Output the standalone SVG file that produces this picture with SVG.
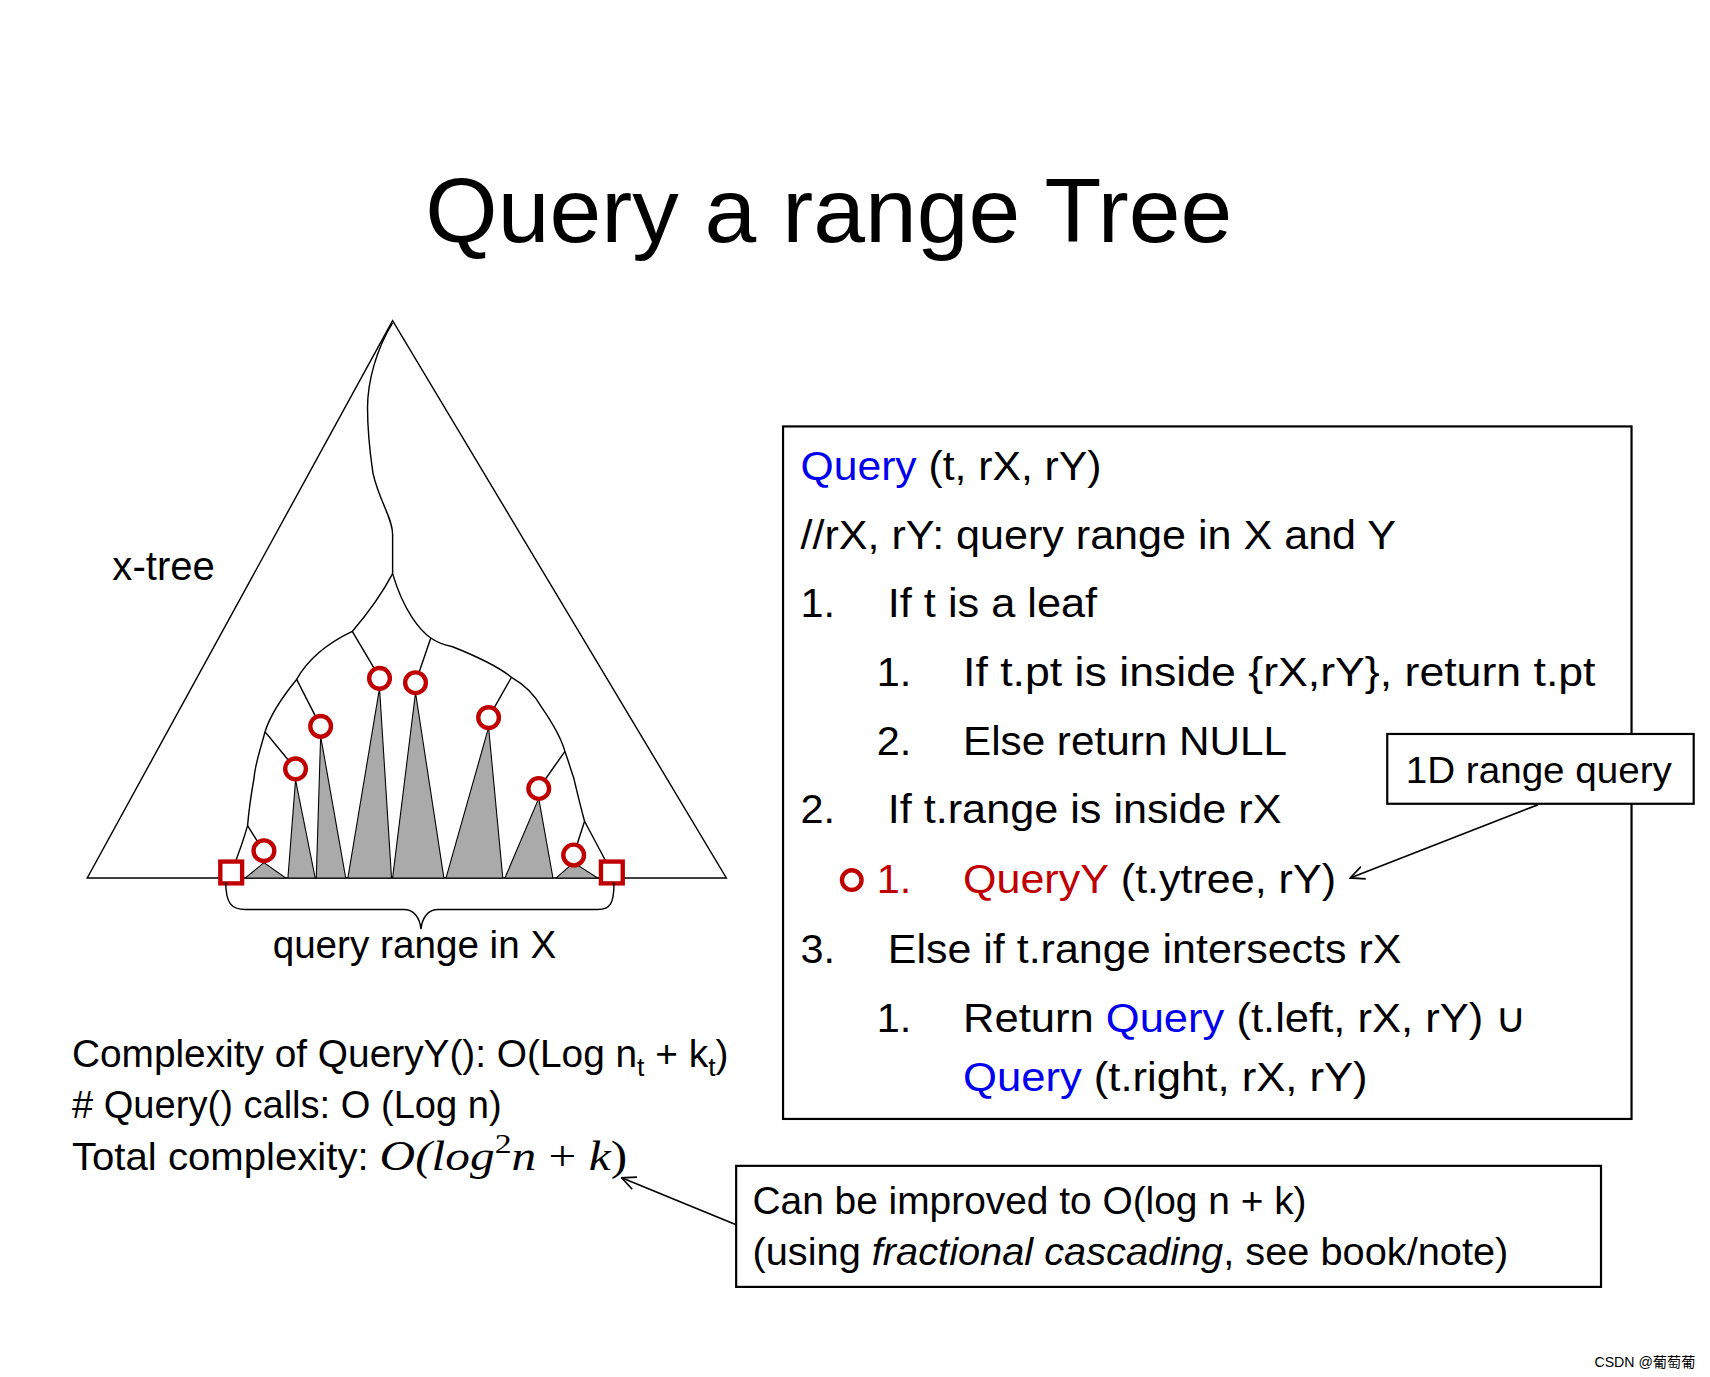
<svg xmlns="http://www.w3.org/2000/svg" width="1710" height="1377" viewBox="0 0 1710 1377">
<style>
text{font-family:"Liberation Sans",Arial,sans-serif;fill:#000}
.t{font-size:38px}
.b{fill:#0000ee}
.r{fill:#c00000}
.ln{fill:none;stroke:#000;stroke-width:1.3}
.g{fill:#aaa;stroke:#000;stroke-width:1}
.rc{fill:#fff;stroke:#c00000;stroke-width:4}
.box{fill:#fff;stroke:#000;stroke-width:2}
.ar{fill:none;stroke:#000;stroke-width:1.5}
</style>
<defs><marker id="oa" viewBox="0 0 14 14" refX="13" refY="7" markerWidth="14" markerHeight="14" orient="auto" markerUnits="userSpaceOnUse"><path d="M0,1 L13,7 L0,13" fill="none" stroke="#000" stroke-width="1.5"/></marker></defs>
<rect width="1710" height="1377" fill="#fff"/>
<g transform="scale(1.0906)">
<text x="760" y="222" font-size="84" text-anchor="middle" textLength="740" lengthAdjust="spacingAndGlyphs">Query a range Tree</text>
<g id="xtree">
<path class="ln" d="M360,294 L80,805 L666,805 Z"/>
<path class="ln" d="M360,296 C345,320 337,350 337,374 C337,400 340,420 342,434 C348,460 360,475 360,490 L360,526"/>
<path class="ln" d="M360,526 C350,545 335,565 323,579 C300,590 282,605 272,623 C258,640 248,655 243,671 C238,690 234,700 233,713 C230,730 228,745 227,757 C222,775 216,790 212,800"/>
<path class="ln" d="M360,526 C370,560 385,578 395,585 C402,590 410,592 415,593 C440,603 458,612 469,621 C485,630 492,640 497,649 C508,665 515,678 518,689 C522,700 524,708 526,713 C530,730 533,742 536,753 C545,770 553,785 561,800"/>
<path class="ln" d="M323,579 L348,621 M395,585 L381,626 M469,621 L448,658 M518,689 L494,723 M536,753 L526,784 M272,623 L294,666 M243,671 L271,705 M227,757 L242,781"/>
<path class="g" d="M225,805 L242,791 L262,805 Z M264,805 L271,715 L289,805 Z M290,805 L294,675 L317,805 Z M319,805 L348,631 L359,805 Z M360,805 L381,635 L407,805 Z M409,805 L448,667 L461,805 Z M463,805 L494,732 L507,805 Z M510,805 L526,791 L548,805 Z"/>
<g class="rc"><circle cx="242" cy="780" r="9.5"/><circle cx="271" cy="705" r="9.5"/><circle cx="294" cy="666" r="9.5"/><circle cx="348" cy="622" r="9.5"/><circle cx="381" cy="626" r="9.5"/><circle cx="448" cy="658" r="9.5"/><circle cx="494" cy="723" r="9.5"/><circle cx="526" cy="784" r="9.5"/>
<rect x="202" y="790" width="20" height="20"/><rect x="551" y="790" width="20" height="20"/></g>
<path class="ln" d="M207,809 C207,828 212,834 225,834 L370,834 C380,834 385,842 386,852 C387,842 392,834 402,834 L548,834 C560,834 563,828 563,809"/>
<text x="103" y="532" class="t" font-size="36" textLength="94" lengthAdjust="spacingAndGlyphs">x-tree</text>
<text x="250" y="878" font-size="36" textLength="260" lengthAdjust="spacingAndGlyphs">query range in X</text>
</g>
<g id="code">
<rect class="box" x="718" y="391" width="778" height="635"/>
<text class="t" x="734" y="440" textLength="276" lengthAdjust="spacingAndGlyphs"><tspan class="b">Query</tspan> (t, rX, rY)</text>
<text class="t" x="734" y="503" textLength="546" lengthAdjust="spacingAndGlyphs">//rX, rY: query range in X and Y</text>
<text class="t" x="734" y="566">1.</text><text class="t" x="814" y="566" textLength="192" lengthAdjust="spacingAndGlyphs">If t is a leaf</text>
<text class="t" x="804" y="629">1.</text><text class="t" x="883" y="629" textLength="580" lengthAdjust="spacingAndGlyphs">If t.pt is inside {rX,rY}, return t.pt</text>
<text class="t" x="804" y="692">2.</text><text class="t" x="883" y="692" textLength="297" lengthAdjust="spacingAndGlyphs">Else return NULL</text>
<text class="t" x="734" y="755">2.</text><text class="t" x="814" y="755" textLength="361" lengthAdjust="spacingAndGlyphs">If t.range is inside rX</text>
<circle cx="781" cy="807" r="9" fill="none" stroke="#c00000" stroke-width="4"/>
<text class="t r" x="804" y="819">1.</text><text class="t" x="883" y="819" textLength="342" lengthAdjust="spacingAndGlyphs"><tspan class="r">QueryY</tspan> (t.ytree, rY)</text>
<text class="t" x="734" y="883">3.</text><text class="t" x="814" y="883" textLength="471" lengthAdjust="spacingAndGlyphs">Else if t.range intersects rX</text>
<text class="t" x="804" y="946">1.</text><text class="t" x="883" y="946" textLength="517" lengthAdjust="spacingAndGlyphs">Return <tspan class="b">Query</tspan> (t.left, rX, rY) ∪</text>
<text class="t" x="883" y="1000" textLength="371" lengthAdjust="spacingAndGlyphs"><tspan class="b">Query</tspan> (t.right, rX, rY)</text>
</g>
<g id="note1d">
<rect class="box" x="1272" y="673" width="281" height="64"/>
<text x="1289" y="718" font-size="34" textLength="244" lengthAdjust="spacingAndGlyphs">1D range query</text>
</g>
<g id="complexity">
<text x="66" y="978" font-size="35" textLength="602" lengthAdjust="spacingAndGlyphs">Complexity of QueryY(): O(Log n<tspan font-size="24" dy="9">t</tspan><tspan dy="-9"> + k</tspan><tspan font-size="24" dy="9">t</tspan><tspan dy="-9">)</tspan></text>
<text x="66" y="1025" font-size="35" textLength="394" lengthAdjust="spacingAndGlyphs"># Query() calls: O (Log n)</text>
<text x="66" y="1073" font-size="35" textLength="272" lengthAdjust="spacingAndGlyphs">Total complexity:</text>
<text x="348" y="1073" font-size="38" style="font-family:'Liberation Serif','Times New Roman',serif;font-style:italic" textLength="227" lengthAdjust="spacingAndGlyphs">O(log<tspan font-size="26" dy="-16" font-style="normal">2</tspan><tspan dy="16">n</tspan><tspan font-style="normal"> +  </tspan>k<tspan font-style="normal">)</tspan></text>
</g>
<g id="note2">
<rect class="box" x="675" y="1069" width="793" height="111"/>
<text x="690" y="1113" font-size="36" textLength="508" lengthAdjust="spacingAndGlyphs">Can be improved to O(log n + k)</text>
<text x="690" y="1160" font-size="36" textLength="693" lengthAdjust="spacingAndGlyphs">(using <tspan font-style="italic">fractional cascading</tspan>, see book/note)</text>
</g>
<g id="connectors">
<line class="ar" x1="1410" y1="738" x2="1238" y2="805" marker-end="url(#oa)"/>
<line class="ar" x1="675" y1="1123" x2="570" y2="1080" marker-end="url(#oa)"/>
</g>
<text x="1462" y="1253" font-size="13" style="font-family:'Liberation Sans','Noto Sans CJK SC',sans-serif" fill="#999">CSDN @葡萄葡</text>
</g>
</svg>
